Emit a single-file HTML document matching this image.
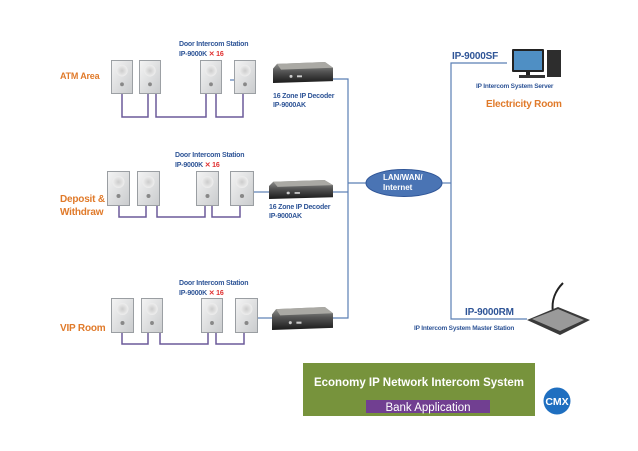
<!DOCTYPE html>
<html><head><meta charset="utf-8"><style>
html,body{margin:0;padding:0;background:#fff}
svg{display:block;font-family:"Liberation Sans",sans-serif}
</style></head><body>
<svg width="638" height="451" viewBox="0 0 638 451" xmlns="http://www.w3.org/2000/svg">
<defs>
<linearGradient id="pg" x1="0" y1="0" x2="1" y2="1"><stop offset="0" stop-color="#f4f4f4"/><stop offset="1" stop-color="#c9cbcd"/></linearGradient>
<radialGradient id="sp"><stop offset="0" stop-color="#ccc"/><stop offset="1" stop-color="#eee"/></radialGradient>
<linearGradient id="dg" x1="0" y1="0" x2="0" y2="1"><stop offset="0" stop-color="#9a9c98"/><stop offset="0.45" stop-color="#555"/><stop offset="1" stop-color="#1a1a1a"/></linearGradient>
<symbol id="panel" viewBox="0 0 23 35" preserveAspectRatio="none">
<rect x="0.5" y="0.5" width="22" height="34" fill="url(#pg)" stroke="#9a9ea2"/>
<circle cx="11.5" cy="11" r="6" fill="url(#sp)"/>
<circle cx="11.5" cy="25" r="2" fill="#888"/>
</symbol>
<symbol id="dec" viewBox="0 0 60 22" preserveAspectRatio="none">
<polygon points="4,2 52,0 60,6 60,20 0,22 0,7" fill="url(#dg)"/>
<polygon points="4,2 52,0 60,6 8,8" fill="#aaa9a4"/>
<circle cx="18" cy="15" r="1.5" fill="#ccc"/><rect x="24" y="14" width="5" height="2" fill="#ccc"/>
</symbol>
</defs>
<g fill="none" stroke="#5a7fb5" stroke-width="1.2">
<polyline points="333,79 348,79 348,318 333,318"/>
<line x1="333" y1="192" x2="348" y2="192"/>
<line x1="348" y1="183" x2="367" y2="183"/>
<line x1="441" y1="183" x2="451" y2="183"/>
<polyline points="507,63 451,63 451,319 527,319"/>
<line x1="230" y1="80" x2="234" y2="80"/>
<line x1="254" y1="192" x2="269" y2="192"/>
<line x1="258" y1="318" x2="272" y2="318"/>
</g>
<g fill="none" stroke="#6b5a9a" stroke-width="1.5">
<polyline points="122,94 122,117 148,117 148,94"/>
<polyline points="156,94 156,117 206,117 206,94"/>
<polyline points="216,94 216,117 243,117 243,94"/>
<polyline points="119,206 119,217 146,217 146,206"/>
<polyline points="157,206 157,217 205,217 205,206"/>
<polyline points="212,206 212,217 240,217 240,206"/>
<polyline points="122,333 122,344 148,344 148,333"/>
<polyline points="160,333 160,344 208,344 208,333"/>
<polyline points="216,333 216,344 244,344 244,333"/>
</g>
<use href="#panel" x="111" y="60" width="22" height="34"/><use href="#panel" x="139" y="60" width="22" height="34"/>
<use href="#panel" x="200" y="60" width="22" height="34"/><use href="#panel" x="234" y="60" width="22" height="34"/>
<use href="#panel" x="107" y="171" width="23" height="35"/><use href="#panel" x="137" y="171" width="23" height="35"/>
<use href="#panel" x="196" y="171" width="23" height="35"/><use href="#panel" x="230" y="171" width="24" height="35"/>
<use href="#panel" x="111" y="298" width="23" height="35"/><use href="#panel" x="141" y="298" width="22" height="35"/>
<use href="#panel" x="201" y="298" width="22" height="35"/><use href="#panel" x="235" y="298" width="23" height="35"/>
<use href="#dec" x="273" y="62" width="60" height="21"/>
<use href="#dec" x="269" y="180" width="64" height="19"/>
<use href="#dec" x="272" y="307" width="61" height="23"/>
<g font-weight="bold" fill="#2f5597" font-size="7" letter-spacing="-0.2">
<text x="179" y="46">Door Intercom Station</text><text x="179" y="56">IP-9000K<tspan fill="#e03030"> ✕ 16</tspan></text>
<text x="175" y="157">Door Intercom Station</text><text x="175" y="167">IP-9000K<tspan fill="#e03030"> ✕ 16</tspan></text>
<text x="179" y="285">Door Intercom Station</text><text x="179" y="295">IP-9000K<tspan fill="#e03030"> ✕ 16</tspan></text>
<text x="273" y="98">16 Zone IP Decoder</text><text x="273" y="107">IP-9000AK</text>
<text x="269" y="209">16 Zone IP Decoder</text><text x="269" y="218">IP-9000AK</text>
<text x="476" y="88" font-size="6.5">IP Intercom System Server</text>
<text x="414" y="330" font-size="6.5">IP Intercom System Master Station</text>
<text x="452" y="59" font-size="10">IP-9000SF</text>
<text x="465" y="315" font-size="10">IP-9000RM</text>
</g>
<g font-weight="bold" fill="#e07a2a" letter-spacing="-0.2">
<text x="60" y="79" font-size="9">ATM Area</text>
<text x="60" y="202" font-size="10">Deposit &amp;</text><text x="60" y="215" font-size="10">Withdraw</text>
<text x="60" y="331" font-size="10">VIP Room</text>
<text x="486" y="107" font-size="10">Electricity Room</text>
</g>
<ellipse cx="404" cy="183" rx="38" ry="13.5" fill="#4a74b4" stroke="#2f5597"/>
<text x="383" y="180" font-size="8" font-weight="bold" fill="#fff">LAN/WAN/</text>
<text x="383" y="190" font-size="8" font-weight="bold" fill="#fff">Internet</text>
<rect x="512" y="49" width="32" height="23" rx="1" fill="#222"/>
<rect x="514" y="51" width="28" height="19" fill="#4f8fc4"/>
<rect x="526" y="72" width="4" height="4" fill="#222"/><rect x="519" y="75" width="26" height="3" fill="#333"/>
<rect x="547" y="50" width="14" height="27" fill="#2d2d2d"/>
<path d="M563,283 C556,290 551,300 553,312" stroke="#222" stroke-width="2" fill="none"/>
<polygon points="527,320 558,307 590,320 560,335" fill="#3a3a3a"/>
<polygon points="532,319 558,309 584,320 560,331" fill="#9a9a9a"/>
<rect x="303" y="363" width="232" height="53" fill="#77933c"/>
<text x="419" y="386" text-anchor="middle" font-size="11.5" font-weight="bold" fill="#fff">Economy IP Network Intercom System</text>
<rect x="366" y="400" width="124" height="13" fill="#7030a0" opacity="0.85"/>
<text x="428" y="411" text-anchor="middle" font-size="11.5" fill="#fff">Bank Application</text>
<circle cx="557" cy="401" r="13.5" fill="#1f6fc0"/>
<text x="557" y="405" text-anchor="middle" font-size="10.5" font-weight="bold" fill="#fff">CMX</text>
</svg>
</body></html>
